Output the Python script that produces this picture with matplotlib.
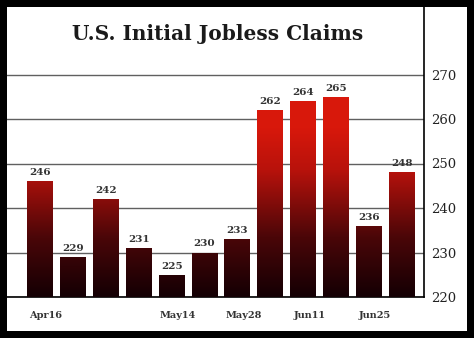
import numpy as np
import matplotlib
matplotlib.use("Agg")
import matplotlib.pyplot as plt
from matplotlib.colors import LinearSegmentedColormap
from matplotlib.transforms import ScaledTranslation

title = "U.S. Initial Jobless Claims"
values = [246, 229, 242, 231, 225, 230, 233, 262, 264, 265, 236, 248]
tick_idx = [0, 4, 6, 8, 10]
tick_labels = ["Apr16", "May14", "May28", "Jun11", "Jun25"]
yticks = [220, 230, 240, 250, 260, 270]

W, H = 474, 338
fig = plt.figure(figsize=(W / 100, H / 100), dpi=100)
fig.patch.set_facecolor("black")

# white interior
bg = fig.add_axes([7 / W, 7 / H, 460 / W, 324 / H])
bg.set_facecolor("white")
bg.set_xticks([]); bg.set_yticks([])
for s in bg.spines.values():
    s.set_visible(False)

# main axes: x from 7px to 424px, y bottom at 297px from top
ax_left, ax_right = 7, 424
ax_bottom_px, ax_top_px = 297, 7
ax = fig.add_axes([ax_left / W, (H - ax_bottom_px) / H,
                   (ax_right - ax_left) / W, (ax_bottom_px - ax_top_px) / H])
ax.patch.set_alpha(0)
px_per_unit = 44.5 / 10
ymax = 220 + (ax_bottom_px - ax_top_px) / px_per_unit
pitch = 32.9
x0 = -(40 - ax_left) / pitch
x1 = x0 + (ax_right - ax_left) / pitch

cmap = LinearSegmentedColormap.from_list(
    "rg", [(0.0, "#140004"), (0.35, "#4a0608"), (0.75, "#b8120c"), (1.0, "#d8180b")])
grad = np.linspace(0, 1, 256).reshape(-1, 1)
vmin, vtop = 220, 258

x = np.arange(len(values))
bars = ax.bar(x, [v - 220 for v in values], bottom=220, width=0.79,
              color="none", edgecolor="none", zorder=3)
for b, v in zip(bars, values):
    im = ax.imshow(grad, extent=[b.get_x(), b.get_x() + b.get_width(), vmin, vtop],
                   origin="lower", cmap=cmap, aspect="auto", zorder=3,
                   interpolation="bilinear")
    ax.bar(b.get_x() + b.get_width() / 2, max(0, v - vtop), bottom=vtop,
           width=b.get_width(), color="#d8180b", zorder=3)
    im.set_clip_path(b)
    ax.annotate(str(v), (b.get_x() + b.get_width() / 2, v), xytext=(0, 3),
                textcoords="offset points", ha="center", va="bottom",
                fontsize=7.5, fontweight="bold", color="#333333",
                family="DejaVu Serif", zorder=4)
ax.set_xlim(x0, x1)
ax.set_ylim(220, ymax)

ax.set_yticks(yticks)
ax.yaxis.tick_right()
ax.tick_params(axis="y", length=0, pad=5, labelsize=9.5, labelcolor="#222222")
for lab in ax.get_yticklabels():
    lab.set_family("DejaVu Serif")
ax.grid(axis="y", color="#606060", linewidth=1.0, zorder=1)

ax.set_xticks(tick_idx)
ax.set_xticklabels(tick_labels, fontsize=7, color="#333333", family="DejaVu Serif",
                   fontweight="bold")
ax.tick_params(axis="x", length=0, pad=10)
off = ScaledTranslation(6 / 100, 0, fig.dpi_scale_trans)
for lab in ax.get_xticklabels():
    lab.set_transform(lab.get_transform() + off)

for s in ["top", "left"]:
    ax.spines[s].set_visible(False)
ax.spines["right"].set_color("black")
ax.spines["right"].set_linewidth(1.2)
ax.spines["bottom"].set_color("black")
ax.spines["bottom"].set_linewidth(1.2)

fig.text(218 / W, 1 - 34 / H, title, ha="center", va="center",
         fontsize=14.5, fontweight="bold", family="DejaVu Serif", color="#1a1a1a")

fig.savefig("out.png", dpi=100, facecolor=fig.get_facecolor())
